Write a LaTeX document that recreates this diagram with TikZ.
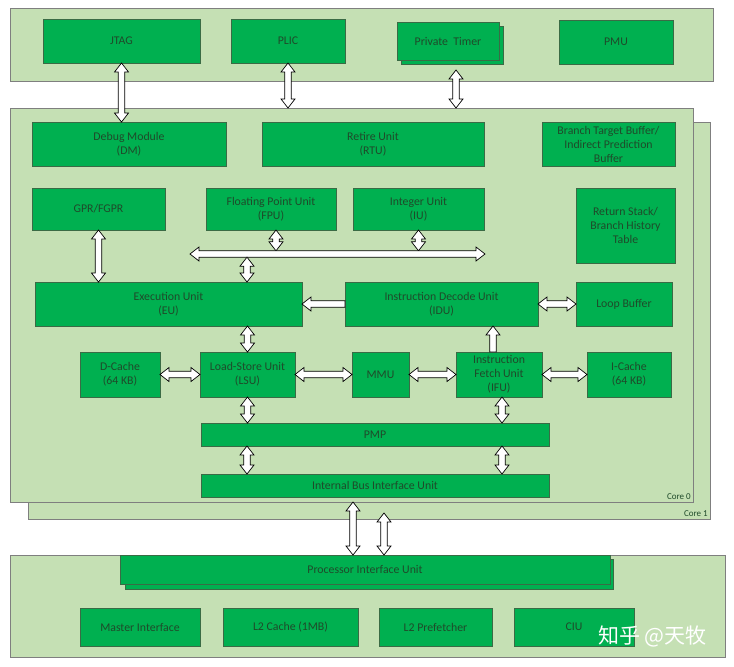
\documentclass[tikz,border=0pt]{standalone}
\usepackage{fontspec}
\setmainfont{Carlito}
\newfontfamily\cjk{Noto Sans CJK SC}
\usetikzlibrary{calc}
\definecolor{dkg}{HTML}{00B050}
\definecolor{ltg}{HTML}{C5E0B4}
\definecolor{bdr}{HTML}{3A6B45}
\definecolor{txt}{HTML}{1F4A2A}
\definecolor{obd}{HTML}{7F7F7F}
\tikzset{
  box/.style={draw=bdr, line width=0.8pt, fill=dkg, inner sep=0pt, outer sep=0pt, align=center, text=txt,
    font=\fontsize{11.8}{14}\selectfont},
  panel/.style={draw=obd, line width=0.8pt, fill=ltg, inner sep=0pt, outer sep=0pt},
  barrow/.style={draw=black, fill=white, line width=0.7pt, line join=miter},
  corelbl/.style={anchor=south east, inner sep=2pt, text=txt, font=\fontsize{9}{10}\selectfont}
}
\newcommand\mkbox[6]{\node[box,minimum width={(#4-#2)*1pt},minimum height={(#5-#3)*1pt}] (#1) at ({(#2+#4)/2},{(#3+#5)/2}) {#6};}
\newcommand\mkpanel[5]{\node[panel,minimum width={(#4-#2)*1pt},minimum height={(#5-#3)*1pt}] (#1) at ({(#2+#4)/2},{(#3+#5)/2}) {};}
\newcommand\darr[2]{\draw[barrow] (#1)
  -- ($(#1)!9pt!(#2)!7pt!90:(#2)$) -- ($(#1)!9pt!(#2)!3.2pt!90:(#2)$)
  -- ($(#2)!9pt!(#1)!3.2pt!-90:(#1)$) -- ($(#2)!9pt!(#1)!7pt!-90:(#1)$)
  -- (#2)
  -- ($(#2)!9pt!(#1)!7pt!90:(#1)$) -- ($(#2)!9pt!(#1)!3.2pt!90:(#1)$)
  -- ($(#1)!9pt!(#2)!3.2pt!-90:(#2)$) -- ($(#1)!9pt!(#2)!7pt!-90:(#2)$)
  -- cycle;}
\newcommand\sarr[2]{\draw[barrow] ($(#1)!3.2pt!90:(#2)$)
  -- ($(#2)!9pt!(#1)!3.2pt!-90:(#1)$) -- ($(#2)!9pt!(#1)!7pt!-90:(#1)$)
  -- (#2)
  -- ($(#2)!9pt!(#1)!7pt!90:(#1)$) -- ($(#2)!9pt!(#1)!3.2pt!90:(#1)$)
  -- ($(#1)!3.2pt!-90:(#2)$) -- cycle;}
\begin{document}
\begin{tikzpicture}[x=1pt,y=-1pt]
\useasboundingbox (0,0) rectangle (734,667);
% panels
\mkpanel{top}{10}{8}{713}{81}
\mkpanel{core1}{28}{122}{710}{519}
\mkpanel{core0}{10}{108}{693}{502}
\mkpanel{bot}{10}{555}{725}{657}
\node[corelbl] (c0l) at (core0.south east) {Core 0};
\node[corelbl] (c1l) at (core1.south east) {Core 1};
% top row
\mkbox{jtag}{43}{19}{200}{63}{JTAG}
\mkbox{plic}{231}{19}{345}{63}{PLIC}
\mkbox{ptb}{401}{26}{503}{64}{}
\mkbox{ptf}{397}{22}{499}{60}{Private\ \ Timer}
\mkbox{pmu}{559}{20}{673}{64}{PMU}
% core
\mkbox{dm}{32}{122}{226}{166}{Debug Module\\(DM)}
\mkbox{rtu}{262}{122}{484}{166}{Retire Unit\\(RTU)}
\mkbox{btb}{542}{122}{675}{166}{Branch Target Buffer/\\Indirect Prediction\\Buffer}
\mkbox{gpr}{32}{188}{165}{230}{GPR/FGPR}
\mkbox{fpu}{206}{188}{336}{230}{Floating Point Unit\\(FPU)}
\mkbox{iu}{353}{188}{484}{230}{Integer Unit\\(IU)}
\mkbox{ras}{576}{188}{675}{263}{Return Stack/\\Branch History\\Table}
\mkbox{eu}{35}{282}{302}{326}{Execution Unit\\(EU)}
\mkbox{idu}{345}{282}{538}{326}{Instruction Decode Unit\\(IDU)}
\mkbox{loop}{576}{282}{672}{326}{Loop Buffer}
\mkbox{dc}{80}{352}{160}{397}{D-Cache\\(64 KB)}
\mkbox{lsu}{200}{352}{295}{397}{Load-Store Unit\\(LSU)}
\mkbox{mmu}{352}{352}{409}{397}{MMU}
\mkbox{ifu}{456}{352}{542}{397}{Instruction\\Fetch Unit\\(IFU)}
\mkbox{ic}{587}{352}{671}{397}{I-Cache\\(64 KB)}
\mkbox{pmp}{201}{423}{549}{446}{PMP}
\mkbox{biu}{201}{474}{549}{497}{Internal Bus Interface Unit}
% bottom
\mkbox{piub}{125}{559}{613}{589}{}
\mkbox{piu}{120}{555}{610}{584}{Processor Interface Unit}
\mkbox{mi}{80}{608}{200}{646}{Master Interface}
\mkbox{l2}{223}{608}{358}{646}{L2 Cache (1MB)}
\mkbox{pf}{379}{608}{492}{646}{L2 Prefetcher}
\mkbox{ciu}{514}{608}{634}{646}{CIU}
% coordinates
\coordinate (busL) at (190,254);
\coordinate (busR) at (485,254);
\coordinate (bust) at (0,250.8);
\coordinate (busb) at (0,257.2);
\coordinate (pta) at (456,70);
\coordinate (fa) at (276,230);
\coordinate (bm) at (247,257.2);
\coordinate (iup) at (493,352);
\coordinate (ifd) at (502,397);
\coordinate (p1) at (247,446);
\coordinate (p2) at (502,446);
\coordinate (b1) at (353,502);
\coordinate (b2) at (384,513);
% arrows
\darr{jtag.south}{jtag.south |- dm.north}
\darr{plic.south}{plic.south |- core0.north}
\darr{pta}{pta |- core0.north}
\darr{gpr.south}{gpr.south |- eu.north}
\darr{fa}{fa |- bust}
\darr{iu.south}{iu.south |- bust}
\darr{busL}{busR}
\darr{bm}{bm |- eu.north}
\sarr{idu.west}{eu.east}
\darr{idu.east}{loop.west}
\darr{lsu.north |- eu.south}{lsu.north}
\darr{dc.east}{lsu.west}
\darr{lsu.east}{mmu.west}
\darr{mmu.east}{ifu.west}
\darr{ifu.east}{ic.west}
\sarr{iup}{iup |- idu.south}
\darr{lsu.south}{lsu.south |- pmp.north}
\darr{ifd}{ifd |- pmp.north}
\darr{p1}{p1 |- biu.north}
\darr{p2}{p2 |- biu.north}
\darr{b1}{b1 |- piu.north}
\darr{b2}{b2 |- piu.north}
% watermark
\node[anchor=west, text=white, inner sep=0pt, font=\cjk\fontsize{21}{21}\selectfont] (wm) at (598,636) {知乎 @天牧};
\end{tikzpicture}
\end{document}
